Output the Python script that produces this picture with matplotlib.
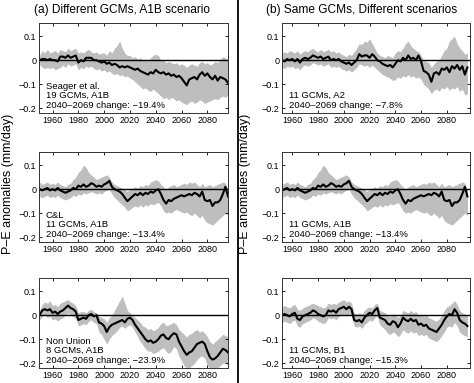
import numpy as np
import matplotlib
matplotlib.use("Agg")
import matplotlib.pyplot as plt

plt.rcParams['font.family'] = ['Liberation Sans', 'DejaVu Sans']

years = np.arange(1950, 2098, 2)

# ---- (a) Seager et al., 19 GCMs, A1B ----
seager_mean = [0.0, 0.005, 0.005, 0.0, 0.005, 0.0, 0.0, -0.005, 0.015, 0.015,
               0.01, 0.02, 0.01, 0.015, 0.02, -0.01, 0.0, -0.005, 0.01, 0.01,
               0.01, 0.0, 0.0, -0.005, -0.01, -0.005, -0.015, -0.01, -0.02, -0.015,
               -0.02, -0.03, -0.025, -0.03, -0.025, -0.03, -0.035, -0.04, -0.035, -0.045,
               -0.05, -0.055, -0.06, -0.05, -0.055, -0.04, -0.05, -0.055, -0.05, -0.06,
               -0.055, -0.065, -0.06, -0.07, -0.065, -0.075, -0.09, -0.105, -0.08, -0.075,
               -0.07, -0.08, -0.06, -0.05, -0.065, -0.055, -0.07, -0.08, -0.065, -0.085,
               -0.07, -0.075, -0.08, -0.095]
seager_hi = [0.02, 0.04, 0.03, 0.045, 0.03, 0.035, 0.04, 0.03, 0.045, 0.04,
             0.035, 0.05, 0.04, 0.045, 0.05, 0.03, 0.035, 0.03, 0.04, 0.045,
             0.035, 0.03, 0.035, 0.025, 0.03, 0.03, 0.02, 0.04, 0.03, 0.05,
             0.06, 0.08, 0.05, 0.03, 0.02, 0.02, 0.01, 0.015, 0.005, 0.01,
             0.0, 0.005, -0.005, 0.01, 0.02, 0.025, 0.02, 0.0, 0.0, -0.01,
             -0.005, -0.01, -0.015, -0.01, -0.02, -0.015, -0.02, -0.03, -0.02, -0.015,
             -0.02, -0.025, -0.01, -0.005, -0.015, -0.01, -0.02, -0.015, -0.005, -0.01,
             0.005, 0.015, 0.01, 0.0]
seager_lo = [-0.02, -0.03, -0.035, -0.03, -0.035, -0.03, -0.04, -0.035, -0.03, -0.02,
             -0.03, -0.015, -0.025, -0.02, -0.015, -0.04, -0.03, -0.035, -0.025, -0.03,
             -0.025, -0.035, -0.04, -0.035, -0.045, -0.04, -0.05, -0.045, -0.055, -0.06,
             -0.055, -0.065, -0.06, -0.07, -0.065, -0.075, -0.08, -0.09, -0.1, -0.11,
             -0.12, -0.115, -0.125, -0.13, -0.12, -0.13, -0.14, -0.15, -0.16, -0.155,
             -0.165, -0.155, -0.16, -0.17, -0.165, -0.175, -0.18, -0.185, -0.175, -0.17,
             -0.18, -0.175, -0.165, -0.17, -0.18, -0.175, -0.17, -0.165, -0.16, -0.165,
             -0.155, -0.15, -0.155, -0.145]

# ---- (b) 11 GCMs, A2 ----
a2_mean = [-0.01, 0.0, -0.005, 0.005, 0.0, 0.005, -0.005, 0.005, -0.01, 0.005,
           0.01, 0.005, 0.01, 0.02, 0.015, 0.01, 0.015, 0.005, 0.01, 0.015,
           0.0, 0.005, 0.0, 0.005, -0.005, -0.01, -0.015, -0.01, -0.02, -0.01,
           0.0, 0.025, 0.015, 0.02, 0.02, 0.01, 0.025, 0.015, 0.0, -0.005,
           -0.015, -0.02, -0.025, -0.02, -0.03, -0.015, 0.0, -0.005, 0.01, 0.0,
           0.02, 0.005, 0.01, 0.0, 0.02, -0.005, -0.045, -0.05, -0.06, -0.09,
           -0.055, -0.05, -0.06, -0.035, -0.04, -0.03, -0.05, -0.025, -0.035, -0.02,
           -0.04, -0.025, -0.06, -0.03]
a2_hi = [0.025, 0.03, 0.035, 0.03, 0.04, 0.035, 0.03, 0.04, 0.025, 0.035,
         0.04, 0.035, 0.045, 0.05, 0.04, 0.035, 0.045, 0.035, 0.04, 0.045,
         0.035, 0.04, 0.03, 0.035, 0.025, 0.02, 0.015, 0.025, 0.02, 0.035,
         0.05, 0.07, 0.065, 0.08, 0.075, 0.09, 0.07, 0.05, 0.03, 0.02,
         0.015, 0.01, 0.02, 0.015, 0.01, 0.03, 0.04, 0.035, 0.05, 0.07,
         0.08, 0.06, 0.05, 0.04, 0.035, 0.02, 0.0, -0.005, -0.01, -0.03,
         -0.015, -0.005, 0.0, 0.02, 0.04, 0.05, 0.08, 0.09, 0.1, 0.07,
         0.05, 0.04, 0.025, 0.03]
a2_lo = [-0.04, -0.03, -0.035, -0.025, -0.03, -0.025, -0.035, -0.03, -0.04, -0.025,
         -0.02, -0.025, -0.02, -0.01, -0.015, -0.02, -0.015, -0.025, -0.02, -0.015,
         -0.03, -0.025, -0.03, -0.025, -0.035, -0.04, -0.045, -0.04, -0.05, -0.04,
         -0.03, -0.015, -0.02, -0.025, -0.02, -0.03, -0.02, -0.03, -0.04, -0.05,
         -0.06, -0.065, -0.07, -0.075, -0.085, -0.08, -0.07, -0.075, -0.065, -0.07,
         -0.06, -0.07, -0.065, -0.075, -0.07, -0.08, -0.1, -0.11, -0.12, -0.14,
         -0.125, -0.12, -0.13, -0.115, -0.12, -0.11, -0.125, -0.115, -0.12, -0.11,
         -0.13, -0.12, -0.145, -0.14]

# ---- C&L / 11 GCMs, A1B (same ensemble) ----
a1b_mean = [0.0, -0.005, 0.0, 0.005, -0.005, 0.0, -0.005, 0.005, -0.005, -0.01,
            -0.015, -0.01, -0.005, 0.005, 0.0, 0.015, 0.01, 0.02, 0.01, 0.015,
            0.025, 0.02, 0.01, 0.015, 0.01, 0.02, 0.025, 0.035, 0.01, 0.0,
            -0.005, -0.01, -0.02, -0.035, -0.05, -0.04, -0.03, -0.02, -0.025, -0.015,
            -0.025, -0.015, -0.02, -0.01, -0.015, -0.005, 0.0, -0.02, -0.045, -0.06,
            -0.045, -0.05, -0.04, -0.035, -0.03, -0.025, -0.03, -0.025, -0.02, -0.025,
            -0.015, -0.02, -0.03, -0.01, -0.045, -0.05, -0.045, -0.07, -0.055, -0.055,
            -0.045, -0.02, 0.01, -0.03]
a1b_hi = [0.03, 0.02, 0.025, 0.03, 0.02, 0.025, 0.02, 0.03, 0.02, 0.015,
          0.01, 0.02, 0.025, 0.04, 0.05, 0.07, 0.08, 0.1, 0.09, 0.07,
          0.06, 0.05, 0.04, 0.045, 0.05, 0.055, 0.06, 0.05, 0.03, 0.02,
          0.015, 0.01, 0.005, 0.0, -0.01, 0.0, 0.005, 0.01, 0.005, 0.015,
          0.01, 0.02, 0.015, 0.03, 0.035, 0.04, 0.035, 0.02, 0.01, 0.0,
          0.01, 0.015, 0.02, 0.01, 0.015, 0.02, 0.025, 0.02, 0.03, 0.025,
          0.03, 0.02, 0.01, 0.025, 0.01, 0.015, 0.02, 0.01, 0.015, 0.02,
          0.025, 0.03, 0.025, 0.0]
a1b_lo = [-0.03, -0.035, -0.03, -0.025, -0.035, -0.03, -0.035, -0.025, -0.035, -0.04,
          -0.045, -0.04, -0.035, -0.025, -0.03, -0.02, -0.025, -0.015, -0.02, -0.015,
          -0.01, -0.015, -0.02, -0.015, -0.02, -0.01, -0.005, 0.0, -0.02, -0.035,
          -0.045, -0.055, -0.065, -0.075, -0.09, -0.085, -0.075, -0.07, -0.075, -0.065,
          -0.075, -0.065, -0.07, -0.06, -0.065, -0.06, -0.055, -0.07, -0.09, -0.1,
          -0.095, -0.1, -0.09, -0.085, -0.09, -0.095, -0.1, -0.095, -0.105, -0.11,
          -0.1, -0.11, -0.12, -0.11, -0.13, -0.14, -0.145, -0.15, -0.14, -0.13,
          -0.12, -0.11, -0.1, -0.11]

# ---- Non Union, 8 GCMs, A1B ----
nu_mean = [0.0, 0.02, 0.025, 0.02, 0.025, 0.01, 0.015, 0.005, 0.015, 0.02,
           0.03, 0.04, 0.03, 0.025, 0.015, -0.02, -0.015, -0.01, -0.015, 0.0,
           0.005, -0.005, 0.0, -0.03, -0.035, -0.045, -0.07, -0.05, -0.04, -0.035,
           -0.03, -0.025, -0.02, -0.03, -0.015, -0.01, -0.02, -0.04, -0.055, -0.07,
           -0.085, -0.1, -0.11, -0.105, -0.115, -0.11, -0.1, -0.085, -0.08, -0.095,
           -0.1, -0.085, -0.075, -0.08, -0.11, -0.13, -0.15, -0.165, -0.155, -0.15,
           -0.135, -0.12, -0.115, -0.11, -0.12, -0.15, -0.175, -0.185, -0.18, -0.17,
           -0.155, -0.14, -0.145, -0.155]
nu_hi = [0.02, 0.045, 0.055, 0.05, 0.06, 0.04, 0.045, 0.035, 0.05, 0.055,
         0.06, 0.065, 0.055, 0.05, 0.04, 0.01, 0.015, 0.015, 0.01, 0.02,
         0.025, 0.015, 0.01, -0.005, -0.01, -0.015, -0.03, -0.01, 0.0, 0.02,
         0.04, 0.06, 0.08, 0.05, 0.02, 0.01, 0.0, -0.01, -0.02, -0.03,
         -0.045, -0.05, -0.06, -0.055, -0.065, -0.06, -0.05, -0.035, -0.03, -0.045,
         -0.04, -0.035, -0.03, -0.04, -0.06, -0.07, -0.08, -0.09, -0.08, -0.075,
         -0.065, -0.06, -0.07, -0.065, -0.075, -0.09, -0.11, -0.12, -0.11, -0.1,
         -0.09, -0.08, -0.085, -0.09]
nu_lo = [-0.02, -0.005, 0.0, -0.01, -0.005, -0.02, -0.015, -0.025, -0.015, -0.01,
         0.0, 0.01, 0.0, -0.005, -0.015, -0.045, -0.04, -0.035, -0.04, -0.025,
         -0.02, -0.03, -0.035, -0.07, -0.08, -0.1, -0.12, -0.1, -0.085, -0.075,
         -0.065, -0.05, -0.045, -0.055, -0.045, -0.04, -0.05, -0.07, -0.09, -0.11,
         -0.125, -0.14, -0.15, -0.15, -0.16, -0.155, -0.15, -0.14, -0.135, -0.15,
         -0.16, -0.15, -0.13, -0.14, -0.17, -0.19, -0.21, -0.22, -0.22, -0.21,
         -0.2, -0.185, -0.175, -0.17, -0.18, -0.21, -0.22, -0.22, -0.22, -0.22,
         -0.21, -0.2, -0.2, -0.21]

# ---- 11 GCMs, B1 ----
b1_mean = [-0.005, 0.0, 0.005, 0.0, -0.005, 0.005, 0.01, -0.015, -0.02, -0.005,
           0.0, 0.005, 0.01, 0.02, 0.015, 0.005, 0.0, -0.005, 0.0, 0.02,
           0.015, 0.02, 0.01, 0.025, 0.03, 0.035, 0.025, 0.035, 0.025, -0.02,
           -0.025, -0.02, -0.03, -0.01, 0.0, 0.01, 0.005, 0.02, 0.03, -0.01,
           -0.015, -0.02, -0.035, -0.04, -0.025, -0.03, -0.05, -0.035, -0.01, -0.02,
           -0.025, -0.015, -0.025, -0.02, -0.04, -0.035, -0.045, -0.04, -0.055, -0.06,
           -0.065, -0.07, -0.055, -0.04, -0.02, -0.005, 0.005, 0.0, 0.025, 0.01,
           -0.02, -0.03, -0.035, -0.045]
b1_hi = [0.03, 0.035, 0.04, 0.035, 0.03, 0.04, 0.045, 0.025, 0.02, 0.03,
         0.035, 0.04, 0.045, 0.05, 0.045, 0.04, 0.035, 0.03, 0.035, 0.05,
         0.045, 0.05, 0.045, 0.055, 0.06, 0.065, 0.055, 0.06, 0.05, 0.01,
         0.005, 0.01, 0.005, 0.02, 0.03, 0.035, 0.03, 0.045, 0.05, 0.02,
         0.015, 0.01, 0.0, -0.005, 0.005, 0.0, -0.01, 0.0, 0.02, 0.015,
         0.01, 0.02, 0.01, 0.015, 0.0, 0.005, -0.005, 0.0, -0.01, -0.015,
         -0.02, -0.025, -0.015, 0.0, 0.02, 0.035, 0.04, 0.05, 0.06, 0.045,
         0.02, 0.01, 0.005, 0.0]
b1_lo = [-0.035, -0.03, -0.025, -0.03, -0.035, -0.025, -0.02, -0.045, -0.05, -0.035,
         -0.03, -0.025, -0.02, -0.01, -0.015, -0.025, -0.03, -0.035, -0.03, -0.01,
         -0.015, -0.01, -0.02, -0.005, 0.0, 0.005, -0.005, 0.005, 0.0, -0.045,
         -0.05, -0.045, -0.055, -0.04, -0.03, -0.02, -0.025, -0.01, -0.005, -0.04,
         -0.05, -0.06, -0.075, -0.08, -0.07, -0.075, -0.09, -0.08, -0.06, -0.07,
         -0.075, -0.065, -0.075, -0.07, -0.085, -0.08, -0.085, -0.08, -0.095, -0.1,
         -0.105, -0.11, -0.1, -0.085, -0.07, -0.05, -0.045, -0.05, -0.03, -0.045,
         -0.07, -0.08, -0.085, -0.09]

labels = [
    "Seager et al.\n19 GCMs, A1B\n2040\u20132069 change: \u221219.4%",
    "11 GCMs, A2\n2040\u20132069 change: \u22127.8%",
    "C&L\n11 GCMs, A1B\n2040\u20132069 change: \u221213.4%",
    "11 GCMs, A1B\n2040\u20132069 change: \u221213.4%",
    "Non Union\n8 GCMs, A1B\n2040\u20132069 change: \u221223.9%",
    "11 GCMs, B1\n2040\u20132069 change: \u221215.3%",
]
panels = [
    (seager_mean, seager_lo, seager_hi),
    (a2_mean, a2_lo, a2_hi),
    (a1b_mean, a1b_lo, a1b_hi),
    (a1b_mean, a1b_lo, a1b_hi),
    (nu_mean, nu_lo, nu_hi),
    (b1_mean, b1_lo, b1_hi),
]
col_titles = ["(a) Different GCMs, A1B scenario", "(b) Same GCMs, Different scenarios"]
xticks = [1960, 1980, 2000, 2020, 2040, 2060, 2080]
yticks = [-0.2, -0.1, 0, 0.1]
ytick_labels = ["\u22120.2", "\u22120.1", "0", "0.1"]

W, H = 474, 383
fig = plt.figure(figsize=(W / 100, H / 100), dpi=100)

col_left = [39, 282]
col_width = [189, 188]
xlims = [(1949.5, 2096), (1952, 2098)]
row_top = [23, 152, 278]
row_h = 90
title_cx = [122, 362]
ylabel_x = [8, 245]

for i, (mean, lo, hi) in enumerate(panels):
    r, c = divmod(i, 2)
    ax = fig.add_axes([col_left[c] / W, 1 - (row_top[r] + row_h) / H,
                       col_width[c] / W, row_h / H])
    ax.fill_between(years, lo, hi, color='#bebebe', lw=0)
    ax.axhline(0, color='black', lw=1.0)
    ax.plot(years, mean, color='black', lw=1.5)
    ax.set_xlim(*xlims[c])
    ax.set_ylim(-0.22, 0.155)
    ax.set_xticks(xticks)
    ax.set_yticks(yticks)
    ax.set_yticklabels(ytick_labels)
    ax.tick_params(direction='in', length=2.5, width=0.6, labelsize=6.5,
                   top=True, right=True, pad=2, colors='black')
    for s in ax.spines.values():
        s.set_linewidth(0.7)
        s.set_color('#333333')
    ax.text(0.035, 0.035, labels[i], transform=ax.transAxes, fontsize=6.8,
            va='bottom', ha='left', linespacing=1.08)

for c in range(2):
    fig.text(title_cx[c] / W, 1 - 10 / H, col_titles[c], ha='center', va='center',
             fontsize=8.6)
    fig.text(ylabel_x[c] / W, 0.52, "P\u2013E anomalies (mm/day)",
             rotation=90, ha='center', va='center', fontsize=9)

fig.add_artist(plt.Line2D([237.5 / W, 237.5 / W], [0, 1], color='black', lw=1.3,
                          transform=fig.transFigure))

fig.savefig("out.png", dpi=100)
